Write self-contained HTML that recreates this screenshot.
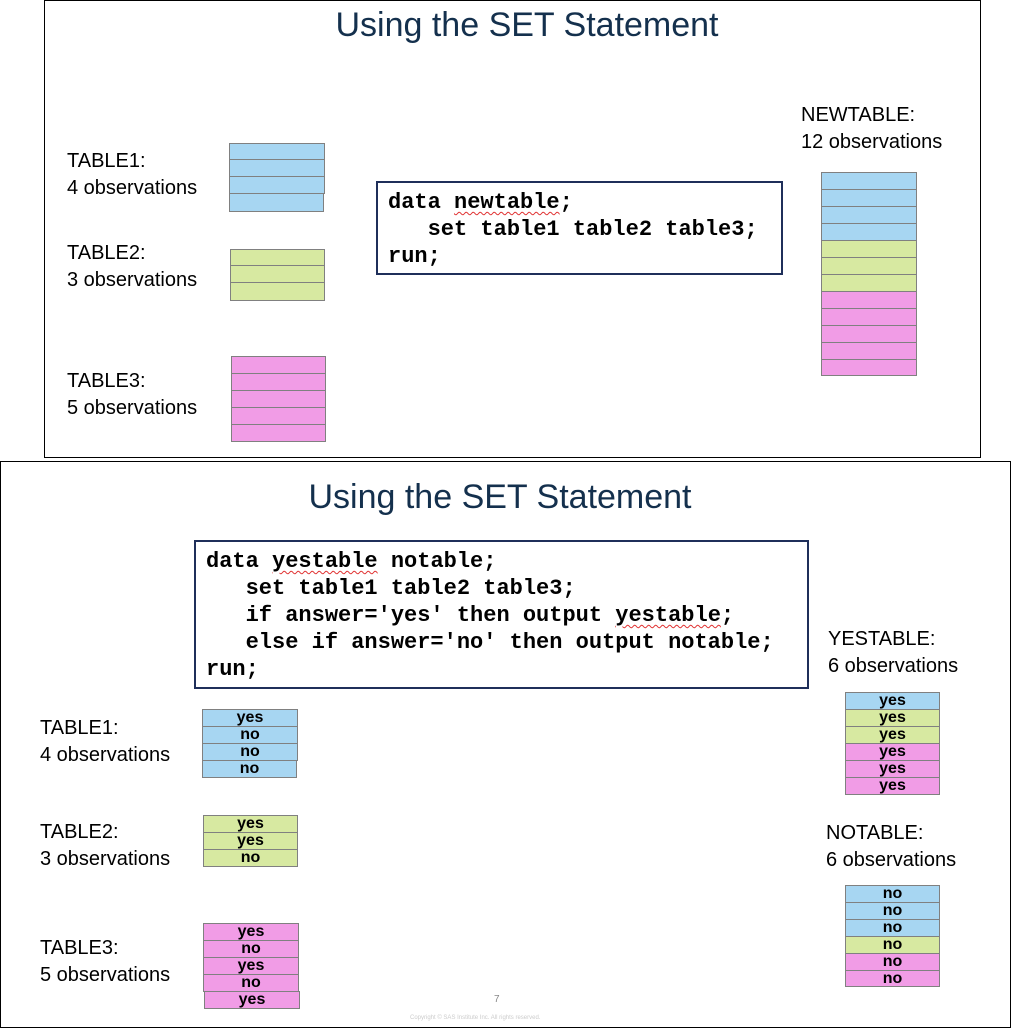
<!DOCTYPE html>
<html><head><meta charset="utf-8"><style>
body{margin:0;width:1011px;height:1028px;background:#fff;position:relative;overflow:hidden;font-family:"Liberation Sans",sans-serif}
.a{position:absolute}
.panel{position:absolute;border:1px solid #000;box-sizing:border-box}
.t{position:absolute;font-size:34px;color:#14304d;white-space:nowrap;transform:translateX(-50%)}
.l{position:absolute;font-size:20px;line-height:27px;color:#000;white-space:nowrap}
.code{position:absolute;border:2px solid #1f2f5a;box-sizing:border-box;font-family:"Liberation Mono",monospace;font-weight:bold;font-size:22px;line-height:27px;white-space:pre;color:#000}
.r{position:absolute;box-sizing:border-box;border:1.5px solid #808080;font-weight:bold;font-size:16px;line-height:16px;text-align:center;color:#000}
.b{background:#a7d6f2}.g{background:#d7e9a1}.p{background:#f19ce6}
u{text-decoration:underline wavy #e03030;text-decoration-thickness:1px;text-underline-offset:3px}
</style></head><body>
<div class="panel" style="left:44px;top:0;width:937px;height:458px"></div>
<div class="panel" style="left:0;top:461px;width:1011px;height:567px"></div>

<div class="t" style="left:527px;top:6px">Using the SET Statement</div>
<div class="t" style="left:500px;top:478px">Using the SET Statement</div>

<div class="l" style="left:67px;top:148px">TABLE1:<br>4 observations</div>
<div class="l" style="left:67px;top:240px">TABLE2:<br>3 observations</div>
<div class="l" style="left:67px;top:368px">TABLE3:<br>5 observations</div>
<div class="l" style="left:801px;top:102px">NEWTABLE:<br>12 observations</div>

<div class="code" style="left:376px;top:181px;width:407px;height:94px;padding:6px 0 0 10px">data <u>newtable</u>;
   set table1 table2 table3;
run;</div>

<div class="r b" style="left:229px;top:143px;width:96px;height:18px"></div>
<div class="r b" style="left:229px;top:159px;width:96px;height:18px"></div>
<div class="r b" style="left:229px;top:176px;width:96px;height:18px"></div>
<div class="r b" style="left:229px;top:193px;width:95px;height:19px"></div>

<div class="r g" style="left:230px;top:249px;width:95px;height:18px"></div>
<div class="r g" style="left:230px;top:265px;width:95px;height:18px"></div>
<div class="r g" style="left:230px;top:282px;width:95px;height:19px"></div>

<div class="r p" style="left:231px;top:356px;width:95px;height:18px"></div>
<div class="r p" style="left:231px;top:373px;width:95px;height:18px"></div>
<div class="r p" style="left:231px;top:390px;width:95px;height:18px"></div>
<div class="r p" style="left:231px;top:407px;width:95px;height:18px"></div>
<div class="r p" style="left:231px;top:424px;width:95px;height:18px"></div>

<div class="r b" style="left:821px;top:172px;width:96px;height:18px"></div>
<div class="r b" style="left:821px;top:189px;width:96px;height:18px"></div>
<div class="r b" style="left:821px;top:206px;width:96px;height:18px"></div>
<div class="r b" style="left:821px;top:223px;width:96px;height:18px"></div>
<div class="r g" style="left:821px;top:240px;width:96px;height:18px"></div>
<div class="r g" style="left:821px;top:257px;width:96px;height:18px"></div>
<div class="r g" style="left:821px;top:274px;width:96px;height:18px"></div>
<div class="r p" style="left:821px;top:291px;width:96px;height:18px"></div>
<div class="r p" style="left:821px;top:308px;width:96px;height:18px"></div>
<div class="r p" style="left:821px;top:325px;width:96px;height:18px"></div>
<div class="r p" style="left:821px;top:342px;width:96px;height:18px"></div>
<div class="r p" style="left:821px;top:359px;width:96px;height:17px"></div>

<div class="code" style="left:194px;top:540px;width:615px;height:149px;padding:6px 0 0 10px">data <u>yestable</u> notable;
   set table1 table2 table3;
   if answer='yes' then output <u>yestable</u>;
   else if answer='no' then output notable;
run;</div>

<div class="l" style="left:40px;top:715px">TABLE1:<br>4 observations</div>
<div class="l" style="left:40px;top:819px">TABLE2:<br>3 observations</div>
<div class="l" style="left:40px;top:935px">TABLE3:<br>5 observations</div>
<div class="l" style="left:828px;top:626px">YESTABLE:<br>6 observations</div>
<div class="l" style="left:826px;top:820px">NOTABLE:<br>6 observations</div>

<div class="r b" style="left:202px;top:709px;width:96px;height:18px">yes</div>
<div class="r b" style="left:202px;top:726px;width:96px;height:18px">no</div>
<div class="r b" style="left:202px;top:743px;width:96px;height:18px">no</div>
<div class="r b" style="left:202px;top:760px;width:95px;height:18px">no</div>

<div class="r g" style="left:203px;top:815px;width:95px;height:18px">yes</div>
<div class="r g" style="left:203px;top:832px;width:95px;height:18px">yes</div>
<div class="r g" style="left:203px;top:849px;width:95px;height:18px">no</div>

<div class="r p" style="left:203px;top:923px;width:96px;height:18px">yes</div>
<div class="r p" style="left:203px;top:940px;width:96px;height:18px">no</div>
<div class="r p" style="left:203px;top:957px;width:96px;height:18px">yes</div>
<div class="r p" style="left:203px;top:974px;width:96px;height:18px">no</div>
<div class="r p" style="left:204px;top:991px;width:96px;height:18px">yes</div>

<div class="r b" style="left:845px;top:692px;width:95px;height:18px">yes</div>
<div class="r g" style="left:845px;top:709px;width:95px;height:18px">yes</div>
<div class="r g" style="left:845px;top:726px;width:95px;height:18px">yes</div>
<div class="r p" style="left:845px;top:743px;width:95px;height:18px">yes</div>
<div class="r p" style="left:845px;top:760px;width:95px;height:18px">yes</div>
<div class="r p" style="left:845px;top:777px;width:95px;height:18px">yes</div>

<div class="r b" style="left:845px;top:885px;width:95px;height:18px">no</div>
<div class="r b" style="left:845px;top:902px;width:95px;height:18px">no</div>
<div class="r b" style="left:845px;top:919px;width:95px;height:18px">no</div>
<div class="r g" style="left:845px;top:936px;width:95px;height:18px">no</div>
<div class="r p" style="left:845px;top:953px;width:95px;height:18px">no</div>
<div class="r p" style="left:845px;top:970px;width:95px;height:17px">no</div>

<div class="a" style="left:494px;top:994px;font-size:10px;color:#888">7</div>
<div class="a" style="left:410px;top:1015px;font-size:6px;color:#ccc;white-space:nowrap">Copyright © SAS Institute Inc. All rights reserved.</div>
</body></html>
